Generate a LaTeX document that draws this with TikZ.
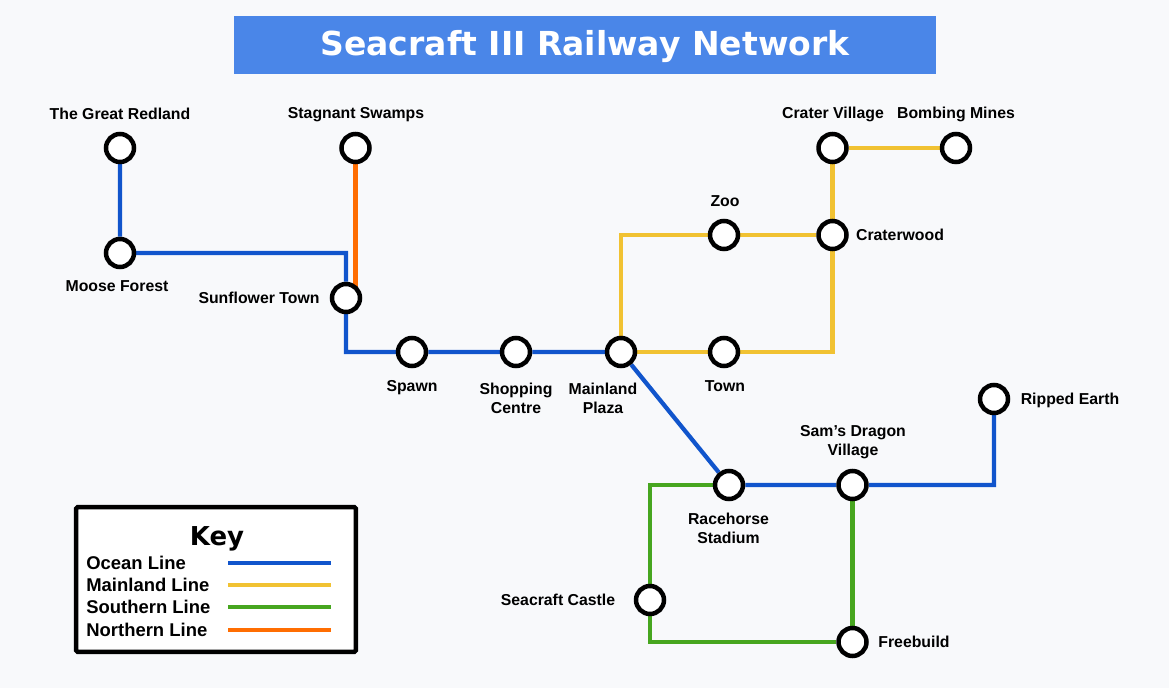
\documentclass[tikz,border=0pt]{standalone}
\usepackage{fontspec}
\setmainfont{Liberation Sans}
\newfontfamily\headfont{DejaVu Sans}
\usetikzlibrary{backgrounds}
\definecolor{pagebg}{HTML}{F8F9FB}
\definecolor{titleblue}{HTML}{4A86E8}
\definecolor{ocean}{HTML}{1155CC}
\definecolor{mainland}{HTML}{F1C232}
\definecolor{southern}{HTML}{47A61F}
\definecolor{northern}{HTML}{FF6D01}

\begin{document}
\begin{tikzpicture}[x=0.02cm,y=-0.02cm,
 station/.style={circle,draw=black,fill=white,line width=0.09cm,inner sep=0pt,minimum size=0.56cm},
 stationtext/.style={font=\fontsize{9}{10.8}\selectfont\bfseries,align=center,inner sep=0pt},
 keytext/.style={font=\fontsize{10.5}{12}\selectfont\bfseries,anchor=west,inner sep=0pt},
 track/.style={line width=0.085cm,color=#1}]
\useasboundingbox (0,0) rectangle (1169,688);
% title and key box
\node [fill=titleblue,minimum width=14.04cm,minimum height=1.16cm,inner sep=0pt] (TitleBar) at (585,45) {};
\node [text=white,font=\fontsize{18.8}{22}\selectfont\headfont\bfseries,inner sep=0pt] (TitleText) at (585,47) {Seacraft III Railway Network};
\node [draw=black,fill=white,line width=0.09cm,rounded corners=1pt,minimum width=5.6cm,minimum height=2.9cm,inner sep=0pt] (KeyBox) at (216,579.5) {};
\node [font=\fontsize{14.8}{18}\selectfont\headfont\bfseries,inner sep=0pt] (KeyText) at (217,539) {Key};
\foreach \name/\label/\col/\y in {Ocean/Ocean Line/ocean/563,Mainland/Mainland Line/mainland/585,Southern/Southern Line/southern/607,Northern/Northern Line/northern/630}
{
  \node [keytext] (\name Text) at (86,\y) {\label};
  \coordinate (\name KeyA) at (228,\y);
  \coordinate (\name KeyB) at (331,\y);
  \draw [track=\col] (\name KeyA) -- (\name KeyB);
}
% stations
\node [station] (Redland) at (120,148) {};
\node [station] (Moose) at (120,253) {};
\node [station] (Swamps) at (355.5,148) {};
\node [station] (Sunflower) at (346,298) {};
\node [station] (Spawn) at (412,352) {};
\node [station] (Shopping) at (516,352) {};
\node [station] (Plaza) at (621,352) {};
\node [station] (Town) at (724,352) {};
\node [station] (Zoo) at (724,235) {};
\node [station] (Craterwood) at (832.5,235) {};
\node [station] (Crater) at (832.5,148) {};
\node [station] (Bombing) at (956,148) {};
\node [station] (Ripped) at (994,399) {};
\node [station] (Dragon) at (852.5,485) {};
\node [station] (Racehorse) at (729,485) {};
\node [station] (Castle) at (650,600) {};
\node [station] (Freebuild) at (852.5,642) {};
% station names
\node [stationtext] (RedlandText) at (120,113.5) {The Great Redland};
\node [stationtext] (SwampsText) at (356,115) {Stagnant Swamps};
\node [stationtext] (CraterText) at (833,114) {Crater Village};
\node [stationtext] (BombingText) at (956,114) {Bombing Mines};
\node [stationtext] (ZooText) at (725,201) {Zoo};
\node [stationtext] (CraterwoodText) at (900,235) {Craterwood};
\node [stationtext] (MooseText) at (117,286) {Moose Forest};
\node [stationtext] (SunflowerText) at (259,298) {Sunflower Town};
\node [stationtext] (SpawnText) at (412,388) {Spawn};
\node [stationtext] (ShoppingText) at (516,398) {Shopping\\Centre};
\node [stationtext] (PlazaText) at (603,398) {Mainland\\Plaza};
\node [stationtext] (TownText) at (725,386) {Town};
\node [stationtext] (DragonText) at (853,442) {Sam’s Dragon\\Village};
\node [stationtext] (RippedText) at (1070,400) {Ripped Earth};
\node [stationtext] (RacehorseText) at (728.5,528) {Racehorse\\Stadium};
\node [stationtext] (CastleText) at (558,600) {Seacraft Castle};
\node [stationtext] (FreebuildText) at (914,642) {Freebuild};
% corners of the lines
\coordinate (OceanA) at (346,253);
\coordinate (OceanB) at (346,352);
\coordinate (OceanC) at (994,485);
\coordinate (MainlandA) at (620.5,235);
\coordinate (MainlandB) at (832.5,352);
\coordinate (SouthernA) at (650,485);
\coordinate (SouthernB) at (650,642);
\begin{scope}[on background layer]
\fill [pagebg] (0,0) rectangle (1169,688);
\draw [track=northern] (Swamps) -- (Swamps |- Sunflower);
\draw [track=mainland] (Plaza) -- (Plaza |- MainlandA) -- (Zoo) -- (Craterwood) -- (Crater) -- (Bombing);
\draw [track=mainland] (Plaza) -- (Town) -- (MainlandB) -- (Craterwood);
\draw [track=southern] (Racehorse) -- (SouthernA) -- (Castle) -- (SouthernB) -- (Freebuild) -- (Dragon);
\draw [track=ocean] (Redland) -- (Moose) -- (OceanA) -- (Sunflower) -- (OceanB) -- (Spawn) -- (Shopping) -- (Plaza) -- (Racehorse) -- (Dragon) -- (OceanC) -- (Ripped);
\end{scope}
\end{tikzpicture}
\end{document}
